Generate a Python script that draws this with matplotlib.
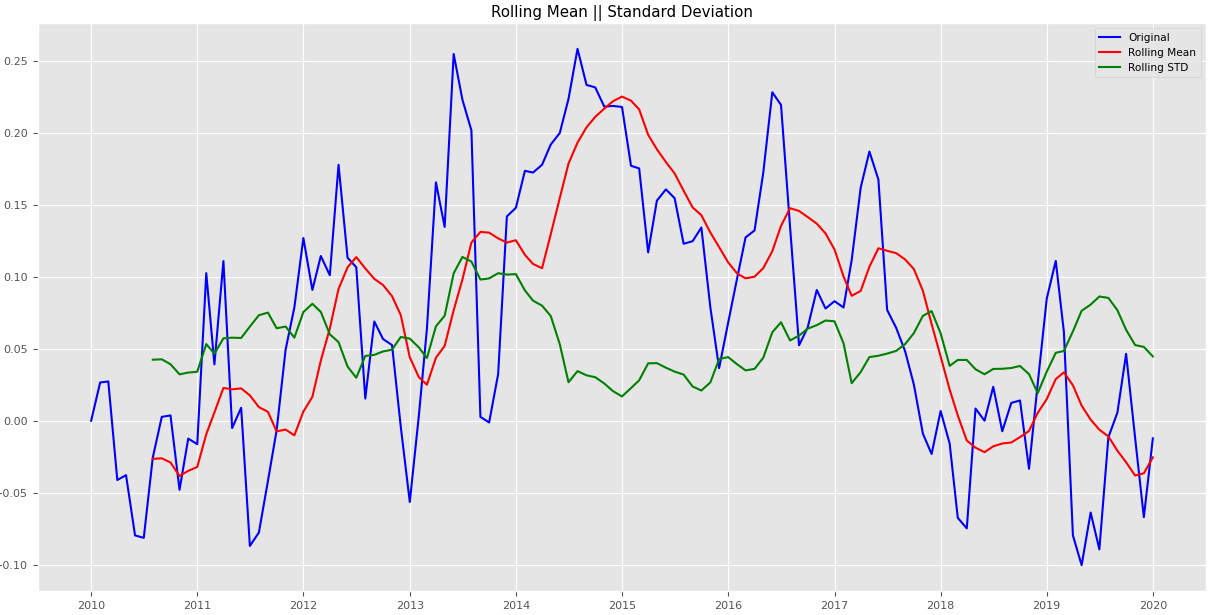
import numpy as np
import pandas as pd
import matplotlib
matplotlib.use('Agg')
import matplotlib.pyplot as plt

plt.style.use('ggplot')

# monthly values, Jan 2010 .. Jan 2020
dates = pd.date_range('2010-01-01', '2020-01-01', freq='MS')
values = [
    0.000, 0.0266, 0.0273, -0.0412, -0.0378, -0.0797, -0.0814, -0.0256,
    0.0027, 0.0037, -0.0480, -0.0124, -0.0163, 0.1026, 0.0392, 0.1110,
    -0.0051, 0.0090, -0.0870, -0.0777, -0.0420, -0.0066, 0.0495, 0.0787,
    0.1270, 0.0909, 0.1145, 0.1011, 0.1779, 0.1133, 0.1067, 0.0154,
    0.0690, 0.0568, 0.0526, -0.0041, -0.0565, 0.0030, 0.0640, 0.1657,
    0.1347, 0.2549, 0.2232, 0.2018, 0.0027, -0.0012, 0.0324, 0.1420,
    0.1480, 0.1737, 0.1725, 0.1779, 0.1920, 0.2000, 0.2237, 0.2585,
    0.2334, 0.2317, 0.2183, 0.2188, 0.2181, 0.1772, 0.1754, 0.1170,
    0.1530, 0.1608, 0.1547, 0.1230, 0.1248, 0.1343, 0.0787, 0.0365,
    0.0680, 0.0990, 0.1274, 0.1323, 0.1725, 0.2283, 0.2195, 0.1350,
    0.0524, 0.0650, 0.0909, 0.0780, 0.0831, 0.0787, 0.1116, 0.1620,
    0.1871, 0.1676, 0.0770, 0.0646, 0.0482, 0.0251, -0.0090, -0.0231,
    0.0068, -0.0158, -0.0675, -0.0748, 0.0085, 0.0000, 0.0236, -0.0073,
    0.0124, 0.0141, -0.0334, 0.0260, 0.0848, 0.1111, 0.0617, -0.0797,
    -0.1004, -0.0638, -0.0894, -0.0115, 0.0056, 0.0465, -0.0120, -0.0670,
    -0.0122,
]
window = 8

ts = pd.Series(values, index=dates)
rolmean = ts.rolling(window).mean()
rolstd = ts.rolling(window).std()

fig = plt.figure(figsize=(12.12, 6.15), dpi=100)
ax = fig.add_axes([0.0314, 0.039, 0.9636, 0.9236])
ax.plot(ts, color='blue', label='Original', lw=1.5)
ax.plot(rolmean, color='red', label='Rolling Mean', lw=1.5)
ax.plot(rolstd, color='green', label='Rolling STD', lw=1.5)
ax.legend(loc='best', fontsize=7.6)
ax.set_title('Rolling Mean || Standard Deviation', fontsize=10.8, pad=4)
ax.tick_params(labelsize=8)

fig.savefig('out.png', dpi=100)
